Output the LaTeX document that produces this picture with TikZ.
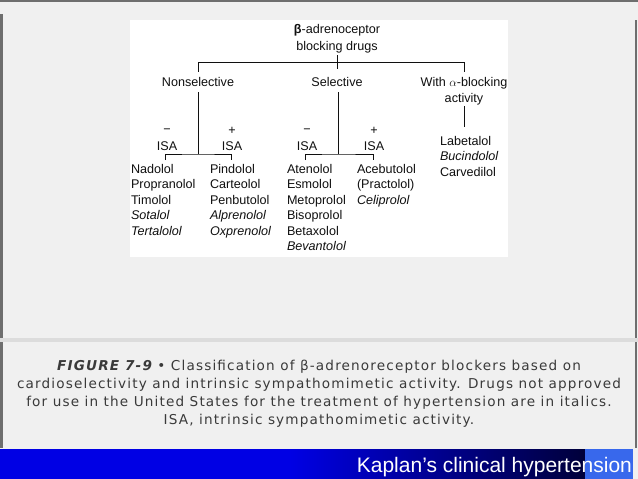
\documentclass[tikz,border=0pt]{standalone}
\usepackage{fontspec}
\setmainfont{Liberation Sans}
\newfontfamily\capfont[LetterSpace=8.5]{DejaVu Sans}
\definecolor{bggray}{HTML}{F0F0F0}
\definecolor{bordergray}{HTML}{6E6E6E}
\definecolor{divgray}{HTML}{DCDCDC}
\definecolor{ink}{HTML}{101010}
\definecolor{capink}{HTML}{3A3A3A}
\definecolor{barblue}{HTML}{0000E4}
\definecolor{navy}{HTML}{00003A}
\definecolor{lightblue}{HTML}{3868EC}
\begin{document}
\begin{tikzpicture}[x=1pt,y=-1pt,
  every node/.style={inner sep=0pt,outer sep=0pt},
  lab/.style={font=\fontsize{12.6}{15.5}\selectfont,text=ink},
  drug/.style={lab,anchor=base west},
  capline/.style={font=\capfont\fontsize{13.6}{18}\selectfont,text=capink,anchor=base},
  conn/.style={draw=ink,line width=1pt}]
\useasboundingbox (0,0) rectangle (638,479);
% background and frame
\fill[bggray] (0,0) rectangle (638,450);
\fill[bordergray] (0,0) rectangle (638,2);
\fill[bordergray] (0,14) rectangle (2.5,448);
\fill[bordergray] (634.5,20) rectangle (637,448);
\fill[divgray] (0,338) rectangle (638,342);
\fill[white] (130,20) rectangle (508,257);
% bottom bar
\fill[barblue] (0,449) rectangle (638,479);
\shade[left color=barblue,right color=navy] (290,449) rectangle (585,479);
\fill[lightblue] (585,449) rectangle (633,479);
\fill[bggray] (633,449) rectangle (638,479);
\node[font=\fontsize{21}{24}\selectfont,text=white,anchor=base east] (kaplan) at (632,472.5) {Kaplan’s clinical hypertension};
% tree
\node[lab,anchor=base] (t1) at (337,34) {{\bfseries β}-adrenoceptor};
\node[lab,anchor=base] (t2) at (337,50) {blocking drugs};
\coordinate (tb) at (337,55);
\coordinate (hmid) at (337,62);
\coordinate (hl) at (198,62);
\coordinate (hr) at (464,62);
\node[lab,anchor=base] (nons) at (198,86) {Nonselective};
\node[lab,anchor=base] (sel) at (337,86) {Selective};
\node[lab,anchor=base] (wa1) at (464,86) {With $\alpha$-blocking};
\node[lab,anchor=base] (wa2) at (464,102) {activity};
\draw[conn] (tb) -- (hmid);
\draw[conn] (hl|-nons.north) ++(0,-5) coordinate (nt) (hl) -- (nt);
\draw[conn] (hr|-wa1.north) ++(0,-5) coordinate (wt) (hr) -- (wt);
\draw[conn] (hl) -- (hr);
\draw[conn] (hmid) -- (sel.north|-0,69);
% ISA labels
\node[lab] (m1) at (167,131) {−};
\node[lab,anchor=base] (i1) at (167,150) {ISA};
\node[lab] (p1) at (232,131) {+};
\node[lab,anchor=base] (i2) at (232,150) {ISA};
\node[lab] (m2) at (307,131) {−};
\node[lab,anchor=base] (i3) at (307,150) {ISA};
\node[lab] (p2) at (374,131) {+};
\node[lab,anchor=base] (i4) at (374,150) {ISA};
% brackets
\coordinate (nb) at (198,154);
\coordinate (sb) at (338,154);
\draw[conn] (198,92) coordinate (ns) -- (nb);
\draw[conn] (165,160) coordinate (nl) |- (nb) -| (231,160) coordinate (nr);
\draw[conn] (338,92) coordinate (ss) -- (sb);
\draw[conn] (305,160) coordinate (sl) |- (sb) -| (373,160) coordinate (sr);
\draw[conn] (464,106) coordinate (as) -- (464,127) coordinate (ae);
% drug columns
\foreach \t [count=\i] in {Nadolol,Propranolol,Timolol,{\itshape Sotalol},{\itshape Tertalolol}}
  \node[drug] (ca-\i) at (131,173+15.5*\i-15.5) {\t};
\foreach \t [count=\i] in {Pindolol,Carteolol,Penbutolol,{\itshape Alprenolol},{\itshape Oxprenolol}}
  \node[drug] (cb-\i) at (210,173+15.5*\i-15.5) {\t};
\foreach \t [count=\i] in {Atenolol,Esmolol,Metoprolol,Bisoprolol,Betaxolol,{\itshape Bevantolol}}
  \node[drug] (cc-\i) at (287,173+15.5*\i-15.5) {\t};
\foreach \t [count=\i] in {Acebutolol,(Practolol),{\itshape Celiprolol}}
  \node[drug] (cd-\i) at (357,173+15.5*\i-15.5) {\t};
\foreach \t [count=\i] in {Labetalol,{\itshape Bucindolol},Carvedilol}
  \node[drug] (ce-\i) at (440,145+15.5*\i-15.5) {\t};
% caption
\node[capline] (cap1) at (319,370.5) {{\bfseries\itshape FIGURE 7-9} • Classification of β-adrenoreceptor blockers based on};
\node[capline] (cap2) at (319,388.5) {cardioselectivity and intrinsic sympathomimetic activity. Drugs not approved};
\node[capline] (cap3) at (319,406.5) {for use in the United States for the treatment of hypertension are in italics.};
\node[capline] (cap4) at (319,424.5) {ISA, intrinsic sympathomimetic activity.};
\end{tikzpicture}
\end{document}
